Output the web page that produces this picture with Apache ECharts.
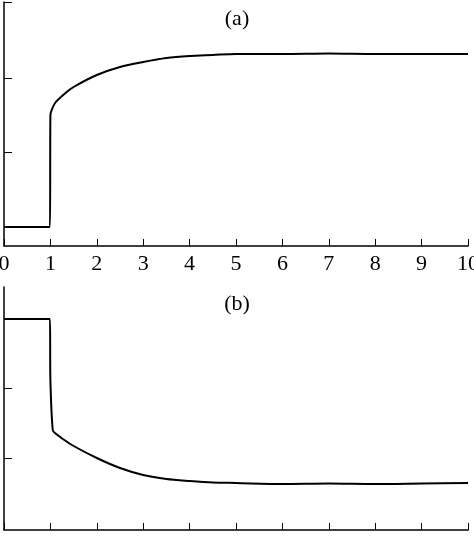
<!DOCTYPE html>
<html><head><meta charset="utf-8">
<script src="https://cdn.jsdelivr.net/npm/echarts@6/dist/echarts.min.js"></script>
<style>html,body{margin:0;padding:0;background:#fff}#c{width:474px;height:540px}</style>
</head><body><div id="c"></div>
<script>
// panel (a): response rising after step at t=1
var xA = [0, 0.5, 0.99, 1.0, 1.02, 1.1, 1.3, 1.5, 2, 2.5, 3, 3.5, 4, 4.5, 5, 6, 7, 8, 9, 10];
var yA = [19, 19, 19, 131, 135, 143, 152, 159, 171, 179, 184, 188, 190, 191, 192, 192, 192.5, 192, 192, 192];
// panel (b): response dropping after step at t=1
var xB = [0, 0.5, 0.99, 1.0, 1.05, 1.1, 1.3, 1.5, 2, 2.5, 3, 3.5, 4, 4.5, 5, 6, 7, 8, 9, 10];
var yB = [211, 211, 211, 150, 100, 97, 90, 84, 72, 62, 55, 51, 49, 47.5, 47, 46, 46.5, 46, 46.5, 47];

function pairs(xs, ys) { return xs.map(function (x, i) { return [x, ys[i]]; }); }

var font = {fontFamily: 'Liberation Serif', fontSize: 22, color: '#000'};
function xAxis(idx) {
  return {
    gridIndex: idx, type: 'value', min: 0, max: 10, interval: 1,
    axisLine: {lineStyle: {color: '#000', width: 1.5}},
    axisTick: {inside: true, length: 7, lineStyle: {color: '#000'}},
    axisLabel: Object.assign({margin: 7}, font),
    splitLine: {show: false}
  };
}
function yAxis(idx, max, ticks) {
  return {
    gridIndex: idx, type: 'value', min: 0, max: max,
    axisLine: {show: true, lineStyle: {color: '#000', width: 1.5}},
    axisTick: {show: true, inside: true, length: 8, customValues: ticks, lineStyle: {color: '#000'}},
    axisLabel: {show: false},
    splitLine: {show: false}
  };
}
var chart = echarts.init(document.getElementById('c'));
chart.setOption({
  animation: false,
  title: [
    {text: '(a)', left: 'center', top: 3, textStyle: Object.assign({fontWeight: 'normal'}, font)},
    {text: '(b)', left: 'center', top: 288, textStyle: Object.assign({fontWeight: 'normal'}, font)}
  ],
  grid: [
    {left: 4, right: 6, top: 2, height: 244, outerBoundsMode: 'none', containLabel: false},
    {left: 4, right: 6, top: 287, height: 243, outerBoundsMode: 'none', containLabel: false}
  ],
  xAxis: [xAxis(0), xAxis(1)],
  yAxis: [yAxis(0, 244, [94, 168, 244]), yAxis(1, 243, [72, 142])],
  series: [
    {type: 'line', xAxisIndex: 0, yAxisIndex: 0, data: pairs(xA, yA), showSymbol: false, smooth: 0.3,
     lineStyle: {color: '#000', width: 2}},
    {type: 'line', xAxisIndex: 1, yAxisIndex: 1, data: pairs(xB, yB), showSymbol: false, smooth: 0.3,
     lineStyle: {color: '#000', width: 2}}
  ]
});
</script></body></html>
